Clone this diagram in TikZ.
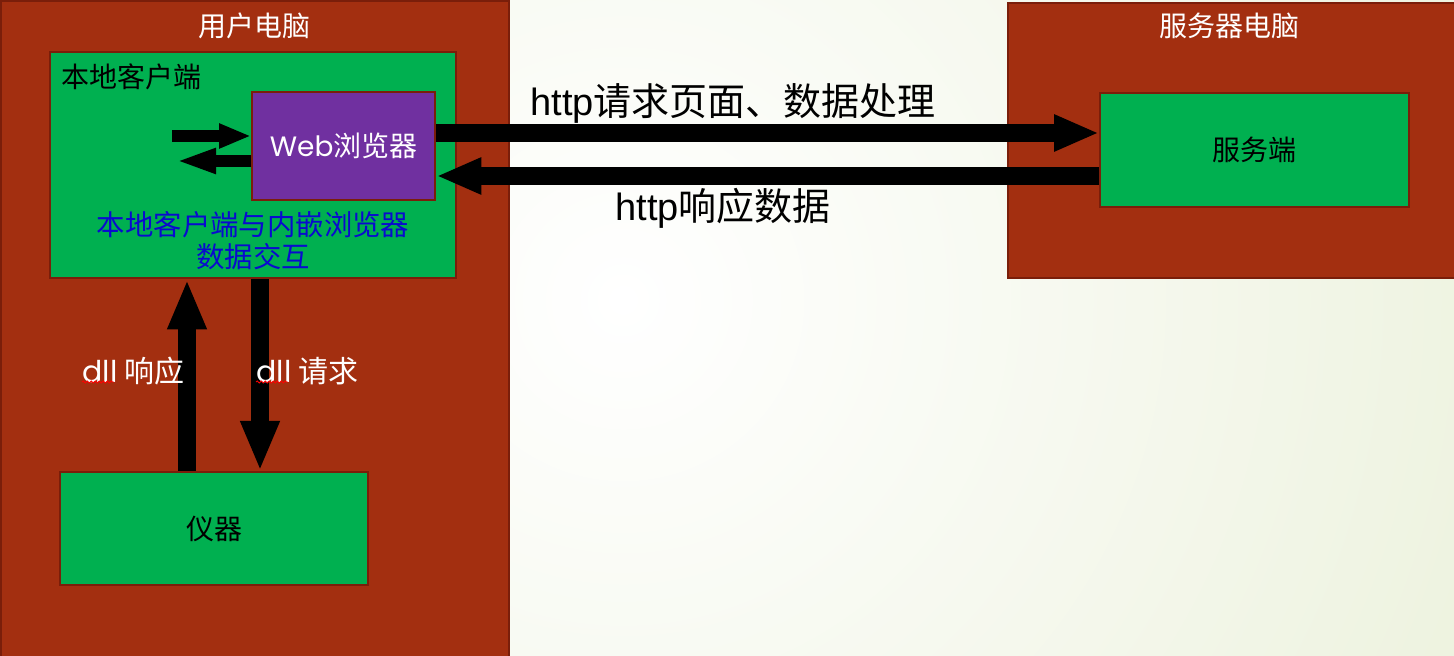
\documentclass[tikz,border=0pt]{standalone}
\usepackage{fontspec}
\setmainfont{Noto Sans CJK SC}
\newfontfamily\lat{Liberation Sans}
\newfontfamily\geo{Poppins}
\usetikzlibrary{arrows.meta,calc,decorations.pathmorphing}
\definecolor{pcred}{HTML}{A32F10}
\definecolor{pcedge}{HTML}{7A1E0A}
\definecolor{boxgreen}{HTML}{00B050}
\definecolor{webpurple}{HTML}{7030A0}
\definecolor{bluetxt}{HTML}{0A0ACF}
\definecolor{bgedge}{HTML}{DCE6C0}
\newcommand\upx{0.5pt}
\begin{document}
\begin{tikzpicture}[x=0.5pt,y=-0.5pt,
  machine/.style={draw=pcedge, line width=1pt, fill=pcred, anchor=north west, inner sep=0},
  greenbox/.style={draw=pcedge, line width=1.2pt, fill=boxgreen, anchor=north west, inner sep=0, font=\fontsize{14}{16}\selectfont},
  title/.style={text=white, inner sep=0, font=\fontsize{14}{16}\selectfont},
  whitelbl/.style={text=white, inner sep=0, anchor=west, font=\fontsize{15}{17}\selectfont},
  httplbl/.style={text=black, inner sep=0, font=\fontsize{19}{21}\selectfont},
  bigarrow/.style={line width=8.75pt, -{Triangle[length=22.5pt,width=17pt]}},
  smallarrow/.style={line width=6pt, -{Triangle[length=16pt,width=11.5pt]}},
  smallarrowb/.style={line width=6pt, -{Triangle[length=20pt,width=11.5pt]}},
  vertarrow/.style={line width=9.25pt, -{Triangle[length=25pt,width=18pt]}},
  spell/.style={red, line width=0.4pt, decorate, decoration={snake, amplitude=0.5pt, segment length=2pt}}
]
\useasboundingbox (0,0) rectangle (1454,656);
\begin{scope}
  \clip (0,0) rectangle (1454,656);
  \shade[inner color=white, outer color=bgedge] (623,300) circle (904pt);
\end{scope}

% machines
\node[machine, minimum width=508*\upx, minimum height=656*\upx] (user) at (0,0) {};
\node[title] (usertitle) at (254,26) {用户电脑};
\node[machine, minimum width=447*\upx, minimum height=275*\upx] (server) at (1007,2) {};
\node[title] (servertitle) at (1229,26) {服务器电脑};

% client area
\node[greenbox, minimum width=406*\upx, minimum height=226*\upx] (client) at (49,51) {};
\node[anchor=west, inner sep=0, font=\fontsize{14}{16}\selectfont] (clientlbl) at (61,77) {本地客户端};
\node[draw=pcedge, line width=1.2pt, fill=webpurple, anchor=north west, inner sep=0,
      minimum width=183*\upx, minimum height=108*\upx, text=white,
      font=\fontsize{14}{16}\selectfont] (web) at (251,91) {{\geo Web}浏览器};
\node[text=bluetxt, align=center, inner sep=0, font=\fontsize{14.2}{16}\selectfont] (inter) at (253,241)
  {本地客户端与内嵌浏览器\\数据交互};

% instrument and server side
\node[greenbox, minimum width=308*\upx, minimum height=113*\upx] (instr) at (59,471) {仪器};
\node[greenbox, minimum width=309*\upx, minimum height=114*\upx] (srv) at (1099,92) {服务端};

% coordinates
\coordinate (yreq) at (0,133);
\coordinate (yresp) at (0,176);
\coordinate (sa) at (172,136);
\coordinate (sb) at (176,161);
\coordinate (xup) at (187,0);
\coordinate (xdown) at (260,0);

% arrows
\draw[smallarrow] (sa) -- (web.west |- sa);
\draw[smallarrowb] (web.west |- sb) -- (sb);
\draw[bigarrow] (web.east |- yreq) -- (srv.west |- yreq);
\draw[bigarrow] (srv.west |- yresp) -- (web.east |- yresp);
\draw[vertarrow] (instr.north -| xup) -- (client.south -| xup);
\draw[vertarrow] (client.south -| xdown) -- (instr.north -| xdown);

% labels
\node[httplbl] (reqlbl) at (733,103) {{\lat http}请求页面、数据处理};
\node[httplbl] (resplbl) at (723,208) {{\lat http}响应数据};
\node[whitelbl] (dllresp) at (82,371) {{\geo dll} 响应};
\node[whitelbl] (dllreq) at (256,371) {{\geo dll} 请求};
\draw[spell] ($(dllresp.west)+(0,11)$) -- ++(32,0);
\draw[spell] ($(dllreq.west)+(0,11)$) -- ++(32,0);
\end{tikzpicture}
\end{document}
